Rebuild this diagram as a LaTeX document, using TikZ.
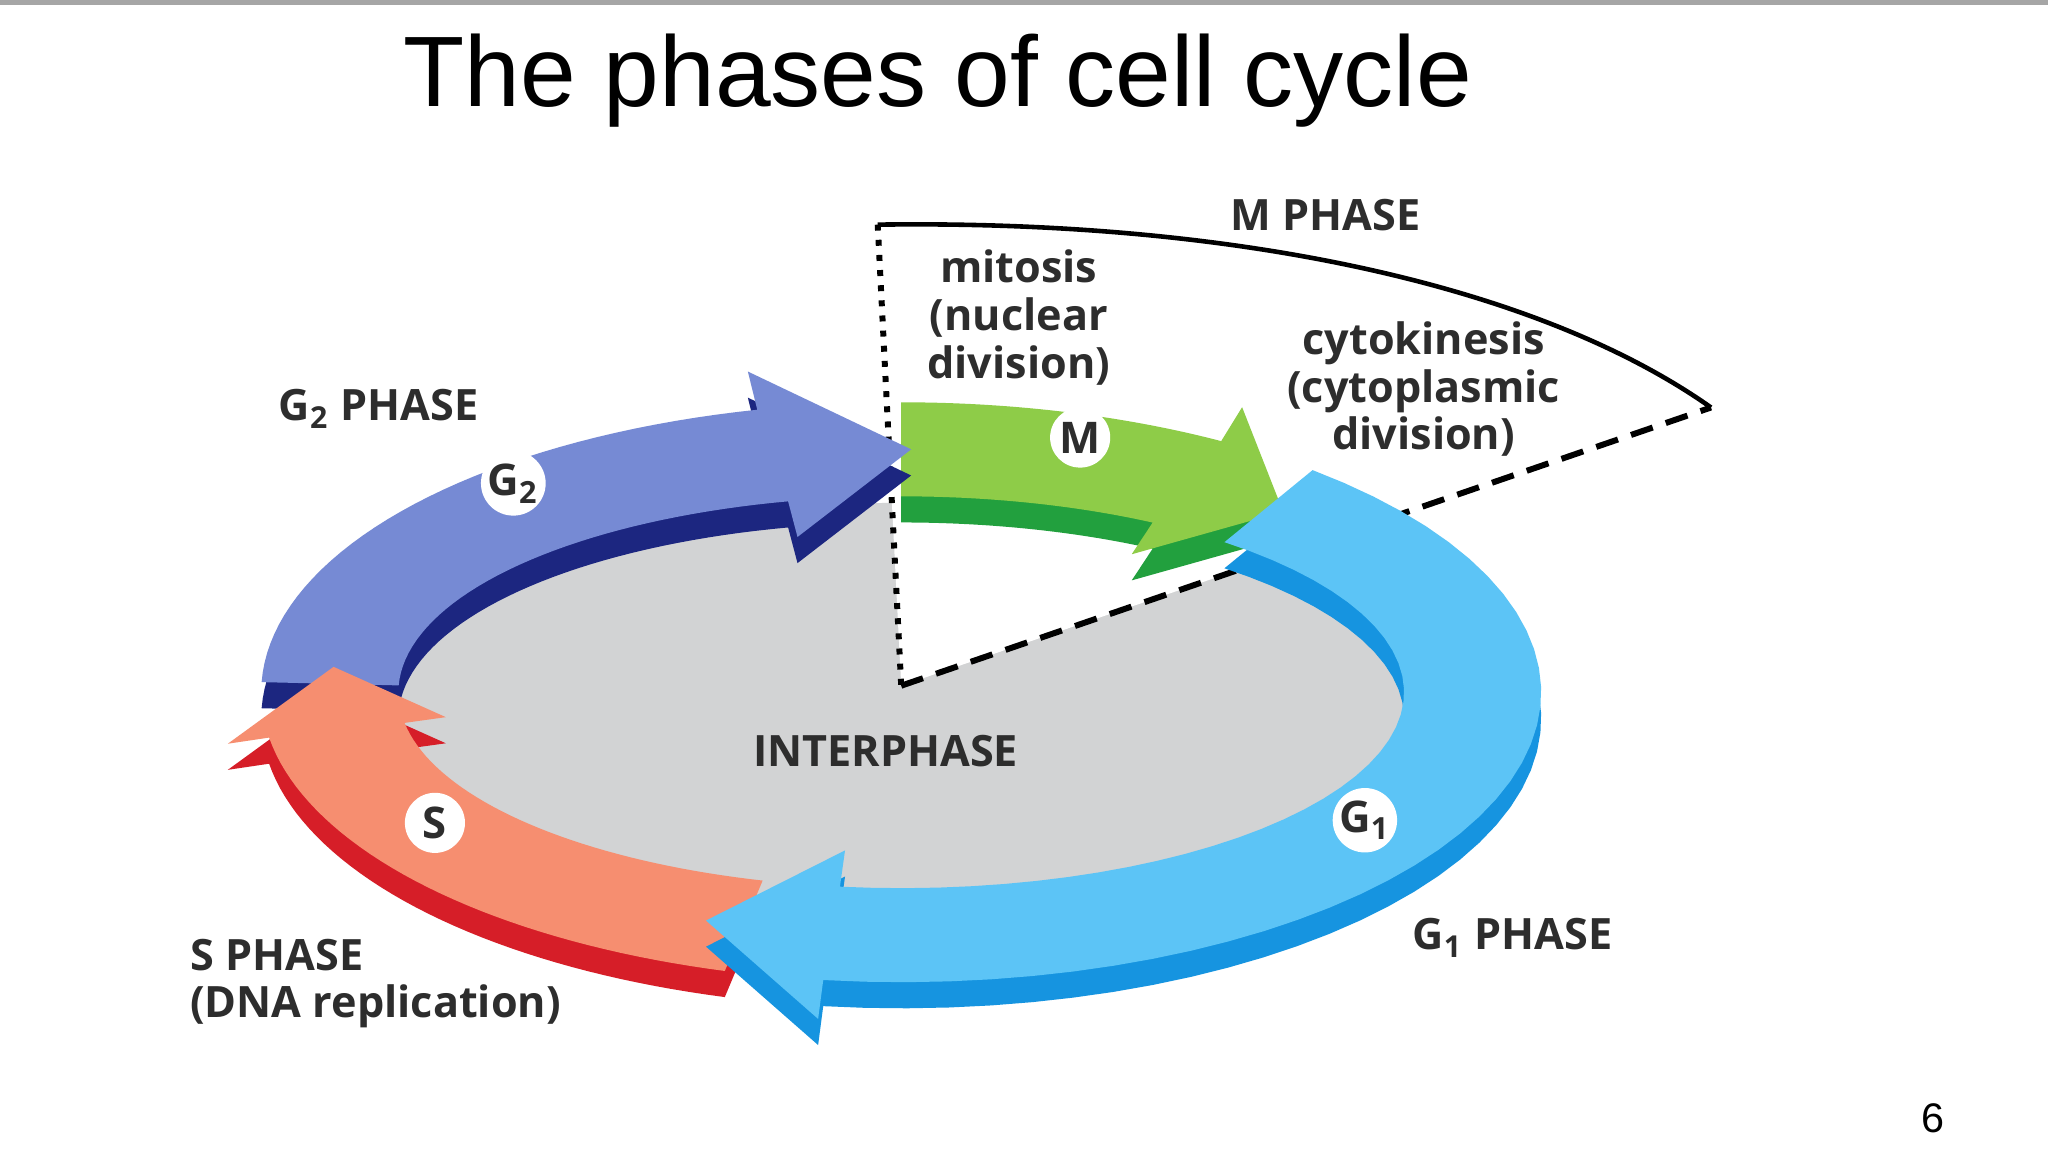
\documentclass[tikz,border=0pt]{standalone}
\usepackage{fontspec}
\setmainfont{Liberation Sans}
\newfontfamily\labf{Open Sans}
\begin{document}
\definecolor{gtwoL}{RGB}{118,138,212}\definecolor{gtwoD}{RGB}{28,38,128}
\definecolor{mL}{RGB}{142,204,72}\definecolor{mD}{RGB}{34,160,62}
\definecolor{goneL}{RGB}{92,196,246}\definecolor{goneD}{RGB}{22,148,224}
\definecolor{sL}{RGB}{246,142,112}\definecolor{sD}{RGB}{214,30,40}
\definecolor{interG}{RGB}{210,211,212}\definecolor{txt}{RGB}{45,45,45}
\newcommand\ringarrow[5]{%
 \pgfmathsetmacro\hb{#2-#5}%
 \begin{scope}[shift={(0,20)}]
 \fill[#4] plot[domain=#1:\hb,samples=40] ({690+490*cos(\x)},{530+222*sin(\x)})
  -- ({690+522*cos(\hb)},{530+252*sin(\hb)}) -- ({690+437*cos(#2)},{530+186*sin(#2)})
  -- ({690+353*cos(\hb)},{530+122*sin(\hb)})
  -- plot[domain=\hb:#1,samples=40] ({690+385*cos(\x)},{530+150*sin(\x)}) -- cycle;
 \end{scope}
 \fill[#3] plot[domain=#1:\hb,samples=40] ({690+490*cos(\x)},{530+222*sin(\x)})
  -- ({690+522*cos(\hb)},{530+252*sin(\hb)}) -- ({690+437*cos(#2)},{530+186*sin(#2)})
  -- ({690+353*cos(\hb)},{530+122*sin(\hb)})
  -- plot[domain=\hb:#1,samples=40] ({690+385*cos(\x)},{530+150*sin(\x)}) -- cycle;}
\begin{tikzpicture}[x=0.01cm,y=-0.01cm,
  lab/.style={font=\labf\bfseries\fontsize{9.4}{10.4}\selectfont,text=txt,align=center,inner sep=0pt},
  badge/.style={circle,fill=white,minimum size=0.46cm,inner sep=0pt,font=\labf\bfseries\fontsize{9.5}{10}\selectfont,text=txt}]
\useasboundingbox (0,0) rectangle (1568,882);
\fill[white] (0,0) rectangle (1568,882);
\draw[gray!70,line width=1.5pt] (0,1) -- (1568,1);
\node[font=\fontsize{21.8}{24}\selectfont] (title) at (718,62) {The phases of cell cycle};
\node[font=\fontsize{9}{10}\selectfont,anchor=south] (pg) at (1480,880) {6};
% interphase area
\fill[interG] (690,540) ellipse [x radius=388, y radius=155];
\coordinate (wc) at (690,525);
\coordinate (wt) at (672,172);
\coordinate (wr) at (1310,312);
\fill[white] (wc) -- (wt) -- (wr) -- cycle;
\draw[line width=1.3pt,dotted] (wt) -- (wc);
\draw[line width=1.3pt,dash pattern=on 5pt off 3pt] (wc) -- (wr);
\draw[line width=1pt] (wt) .. controls (950,168) and (1180,220) .. (wr);
% arrows
\ringarrow{-90}{-48}{mL}{mD}{12}
\ringarrow{182}{271}{gtwoL}{gtwoD}{14}
\ringarrow{106}{186}{sL}{sD}{15}
\ringarrow{-50}{110}{goneL}{goneD}{13}
% badges
\node[badge] (bm) at (827,335) {M};
\node[badge] (bg2) at (393,370) {G\textsubscript{2}};
\node[badge] (bs) at (333,630) {S};
\node[badge] (bg1) at (1045,628) {G\textsubscript{1}};
% labels
\node[lab] (mph) at (1015,165) {M PHASE};
\node[lab] (mit) at (780,243) {mitosis\\(nuclear\\division)};
\node[lab] (cyt) at (1090,298) {cytokinesis\\(cytoplasmic\\division)};
\node[lab] (g2p) at (290,313) {G\textsubscript{2} PHASE};
\node[lab] (inter) at (678,575) {INTERPHASE};
\node[lab] (g1p) at (1158,718) {G\textsubscript{1} PHASE};
\node[lab,align=left,anchor=west] (sph) at (145,753) {S PHASE\\(DNA replication)};
\end{tikzpicture}
\end{document}
